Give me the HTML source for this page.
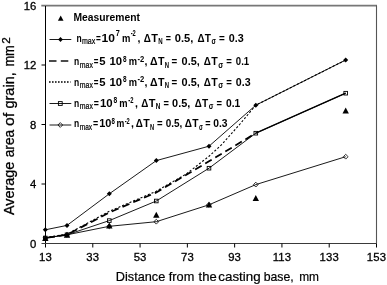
<!DOCTYPE html>
<html><head><meta charset="utf-8"><title>Chart</title>
<style>html,body{margin:0;padding:0;background:#fff}svg{display:block}text{font-family:"Liberation Sans",Arial,sans-serif;fill:#000}.b{font-weight:bold}.s{font-size:7px;font-weight:normal}.sb{font-size:7px;font-weight:bold}</style></head><body>
<svg width="387" height="285" viewBox="0 0 387 285">
<rect width="387" height="285" fill="#fff"/>
<path d="M41.3 5.6H377.0" stroke="#777" stroke-width="1.6" fill="none"/>
<path d="M376.5 5.5V243.5" stroke="#555" stroke-width="1.1" fill="none"/>
<path d="M45.5 6.0V247.5" stroke="#000" stroke-width="1" fill="none"/>
<path d="M41.5 243.5H376.5" stroke="#3a3a3a" stroke-width="1.1" fill="none"/>
<path d="M41.5 184.00H45.5M41.5 124.50H45.5M41.5 65.00H45.5M92.79 243.5V247.5M140.07 243.5V247.5M187.36 243.5V247.5M234.64 243.5V247.5M281.93 243.5V247.5M329.21 243.5V247.5M376.50 243.5V247.5" stroke="#000" stroke-width="1" fill="none"/>
<text x="36.3" y="247.6" font-size="11.3" text-anchor="end" stroke="#000" stroke-width="0.3">0</text>
<text x="36.3" y="188.1" font-size="11.3" text-anchor="end" stroke="#000" stroke-width="0.3">4</text>
<text x="36.3" y="128.6" font-size="11.3" text-anchor="end" stroke="#000" stroke-width="0.3">8</text>
<text x="36.3" y="69.1" font-size="11.3" text-anchor="end" stroke="#000" stroke-width="0.3">12</text>
<text x="36.3" y="9.6" font-size="11.3" text-anchor="end" stroke="#000" stroke-width="0.3">16</text>
<text x="45.5" y="261.3" font-size="11.3" letter-spacing="0.15" text-anchor="middle" stroke="#000" stroke-width="0.3">13</text>
<text x="92.8" y="261.3" font-size="11.3" letter-spacing="0.15" text-anchor="middle" stroke="#000" stroke-width="0.3">33</text>
<text x="140.1" y="261.3" font-size="11.3" letter-spacing="0.15" text-anchor="middle" stroke="#000" stroke-width="0.3">53</text>
<text x="187.4" y="261.3" font-size="11.3" letter-spacing="0.15" text-anchor="middle" stroke="#000" stroke-width="0.3">73</text>
<text x="234.6" y="261.3" font-size="11.3" letter-spacing="0.15" text-anchor="middle" stroke="#000" stroke-width="0.3">93</text>
<text x="281.9" y="261.3" font-size="11.3" letter-spacing="0.15" text-anchor="middle" stroke="#000" stroke-width="0.3">113</text>
<text x="329.2" y="261.3" font-size="11.3" letter-spacing="0.15" text-anchor="middle" stroke="#000" stroke-width="0.3">133</text>
<text x="376.5" y="261.3" font-size="11.3" letter-spacing="0.15" text-anchor="middle" stroke="#000" stroke-width="0.3">153</text>
<text x="115.80" y="280.5" font-size="12.4" textLength="49.51" lengthAdjust="spacingAndGlyphs" stroke="#000" stroke-width="0.2">Distance</text>
<text x="168.80" y="280.5" font-size="12.4" textLength="25.50" lengthAdjust="spacingAndGlyphs" stroke="#000" stroke-width="0.2">from</text>
<text x="198.60" y="280.5" font-size="12.4" textLength="18.10" lengthAdjust="spacingAndGlyphs" stroke="#000" stroke-width="0.2">the</text>
<text x="218.30" y="280.5" font-size="12.4" textLength="42.28" lengthAdjust="spacingAndGlyphs" stroke="#000" stroke-width="0.2">casting</text>
<text x="263.70" y="280.5" font-size="12.4" textLength="30.02" lengthAdjust="spacingAndGlyphs" stroke="#000" stroke-width="0.2">base,</text>
<text x="299.20" y="280.5" font-size="12.4" textLength="19.81" lengthAdjust="spacingAndGlyphs" stroke="#000" stroke-width="0.2">mm</text>
<g transform="translate(13.8 215.1) rotate(-90)">
<text x="0.00" y="0" font-size="14" textLength="53.42" lengthAdjust="spacingAndGlyphs" stroke="#000" stroke-width="0.3">Average</text>
<text x="57.80" y="0" font-size="14" textLength="27.55" lengthAdjust="spacingAndGlyphs" stroke="#000" stroke-width="0.3">area</text>
<text x="89.00" y="0" font-size="14" textLength="13.18" lengthAdjust="spacingAndGlyphs" stroke="#000" stroke-width="0.3">of</text>
<text x="106.60" y="0" font-size="14" textLength="36.22" lengthAdjust="spacingAndGlyphs" stroke="#000" stroke-width="0.3">grain,</text>
<text x="148.60" y="0" font-size="14" textLength="21.21" lengthAdjust="spacingAndGlyphs" stroke="#000" stroke-width="0.3">mm</text>
<text x="171.40" y="-3.8" font-size="10.5" textLength="6.51" lengthAdjust="spacingAndGlyphs" stroke="#000" stroke-width="0.25">2</text>
</g>
<polyline points="45.3,237.6 67.0,234.2 109.3,211.3 156.3,191.2 186.0,174.2 209.0,156.3 222.0,144.3 240.0,124.0 255.8,105.2 345.7,60.0" fill="none" stroke="#000" stroke-width="1.1" stroke-dasharray="2.1 1.9"/>
<polyline points="45.3,238.0 67.0,234.8 109.3,226.3 156.3,221.7 209.0,204.8 255.8,184.6 345.7,156.7" fill="none" stroke="#000" stroke-width="0.9"/>
<polyline points="45.3,238.0 67.0,234.8 109.3,220.6 156.3,201.0 209.0,168.2 255.8,133.2 345.7,93.2" fill="none" stroke="#000" stroke-width="0.9"/>
<polyline points="45.3,238.0 67.0,234.8 109.3,212.5 156.3,192.5 209.0,161.3 255.8,133.2" fill="none" stroke="#000" stroke-width="1.75" stroke-dasharray="7.5 4.2" stroke-dashoffset="9.5"/>
<path d="M255.8 133.2L345.7 93.2" fill="none" stroke="#000" stroke-width="1.35"/>
<polyline points="45.3,229.8 67.0,225.4 109.3,193.8 156.3,160.6 209.0,146.2 255.8,105.2 345.7,60.0" fill="none" stroke="#000" stroke-width="0.9"/>
<path d="M42.9 238.0L45.3 235.6L47.7 238.0L45.3 240.4Z" fill="none" stroke="#000" stroke-width="0.8"/>
<path d="M64.6 234.8L67.0 232.4L69.4 234.8L67.0 237.2Z" fill="none" stroke="#000" stroke-width="0.8"/>
<path d="M106.9 226.3L109.3 223.9L111.7 226.3L109.3 228.7Z" fill="none" stroke="#000" stroke-width="0.8"/>
<path d="M153.9 221.7L156.3 219.3L158.7 221.7L156.3 224.1Z" fill="none" stroke="#000" stroke-width="0.8"/>
<path d="M206.6 204.8L209.0 202.4L211.4 204.8L209.0 207.2Z" fill="none" stroke="#000" stroke-width="0.8"/>
<path d="M253.4 184.6L255.8 182.2L258.2 184.6L255.8 187.0Z" fill="none" stroke="#000" stroke-width="0.8"/>
<path d="M343.3 156.7L345.7 154.3L348.1 156.7L345.7 159.1Z" fill="none" stroke="#000" stroke-width="0.8"/>
<rect x="43.5" y="236.2" width="3.6" height="3.6" fill="none" stroke="#000" stroke-width="0.9"/>
<rect x="65.2" y="233.0" width="3.6" height="3.6" fill="none" stroke="#000" stroke-width="0.9"/>
<rect x="107.5" y="218.8" width="3.6" height="3.6" fill="none" stroke="#000" stroke-width="0.9"/>
<rect x="154.5" y="199.2" width="3.6" height="3.6" fill="none" stroke="#000" stroke-width="0.9"/>
<rect x="207.2" y="166.4" width="3.6" height="3.6" fill="none" stroke="#000" stroke-width="0.9"/>
<rect x="254.0" y="131.4" width="3.6" height="3.6" fill="none" stroke="#000" stroke-width="0.9"/>
<rect x="343.9" y="91.4" width="3.6" height="3.6" fill="none" stroke="#000" stroke-width="0.9"/>
<path d="M42.8 229.8L45.3 227.3L47.8 229.8L45.3 232.3Z" fill="#000"/>
<path d="M64.5 225.4L67.0 222.9L69.5 225.4L67.0 227.9Z" fill="#000"/>
<path d="M106.8 193.8L109.3 191.3L111.8 193.8L109.3 196.3Z" fill="#000"/>
<path d="M153.8 160.6L156.3 158.1L158.8 160.6L156.3 163.1Z" fill="#000"/>
<path d="M206.5 146.2L209.0 143.7L211.5 146.2L209.0 148.7Z" fill="#000"/>
<path d="M253.3 105.2L255.8 102.7L258.3 105.2L255.8 107.7Z" fill="#000"/>
<path d="M343.2 60.0L345.7 57.5L348.2 60.0L345.7 62.5Z" fill="#000"/>
<path d="M42.1 241.0L45.3 235.0L48.5 241.0Z" fill="#000"/>
<path d="M63.8 237.8L67.0 231.8L70.2 237.8Z" fill="#000"/>
<path d="M106.1 228.6L109.3 222.6L112.5 228.6Z" fill="#000"/>
<path d="M153.1 217.7L156.3 211.7L159.5 217.7Z" fill="#000"/>
<path d="M205.8 207.6L209.0 201.6L212.2 207.6Z" fill="#000"/>
<path d="M252.6 200.9L255.8 194.9L259.0 200.9Z" fill="#000"/>
<path d="M342.5 113.5L345.7 107.5L348.9 113.5Z" fill="#000"/>
<path d="M57.9 20.8L60.7 15.6L63.5 20.8Z" fill="#000"/>
<text x="73.5" y="21.3" font-size="10.3" class="b">Measurement</text>
<path d="M49.5 39.5H71.3" stroke="#000" stroke-width="0.9"/><path d="M58.1 39.5L60.5 37.1L62.9 39.5L60.5 41.9Z" fill="#000"/>
<text x="76.60" y="41.6" font-size="11.6" textLength="5.21" lengthAdjust="spacingAndGlyphs" class="b">n</text>
<text x="82.00" y="43.9" font-size="8.2" textLength="13.29" lengthAdjust="spacingAndGlyphs" stroke="#000" stroke-width="0.2">max</text>
<text x="96.00" y="41.6" font-size="10.6" textLength="4.79" lengthAdjust="spacingAndGlyphs" class="b">=</text>
<text x="101.60" y="41.6" font-size="10.6" textLength="13.43" lengthAdjust="spacingAndGlyphs" class="b">10</text>
<text x="115.80" y="36.4" font-size="8.4" textLength="4.01" lengthAdjust="spacingAndGlyphs" class="b">7</text>
<text x="121.90" y="41.6" font-size="10.6" textLength="8.39" lengthAdjust="spacingAndGlyphs" class="b">m</text>
<text x="130.70" y="36.4" font-size="8.4" textLength="5.10" lengthAdjust="spacingAndGlyphs" class="b">-2</text>
<text x="137.50" y="41.6" font-size="10.6" class="b">,</text>
<text x="143.70" y="41.6" font-size="10.6" textLength="7.09" lengthAdjust="spacingAndGlyphs" class="b">Δ</text>
<text x="151.30" y="41.6" font-size="10.6" textLength="6.71" lengthAdjust="spacingAndGlyphs" class="b">T</text>
<text x="158.30" y="43.9" font-size="8.8" textLength="4.41" lengthAdjust="spacingAndGlyphs" class="b">N</text>
<text x="165.80" y="41.6" font-size="10.6" textLength="5.19" lengthAdjust="spacingAndGlyphs" class="b">=</text>
<text x="174.80" y="41.6" font-size="10.6" textLength="18.58" lengthAdjust="spacingAndGlyphs" class="b">0.5,</text>
<text x="197.40" y="41.6" font-size="10.6" textLength="7.09" lengthAdjust="spacingAndGlyphs" class="b">Δ</text>
<text x="204.80" y="41.6" font-size="10.6" textLength="6.21" lengthAdjust="spacingAndGlyphs" class="b">T</text>
<text x="211.50" y="43.9" font-size="8.8" textLength="4.49" lengthAdjust="spacingAndGlyphs" class="b">σ</text>
<text x="218.90" y="41.6" font-size="10.6" textLength="5.79" lengthAdjust="spacingAndGlyphs" class="b">=</text>
<text x="228.70" y="41.6" font-size="10.6" textLength="15.00" lengthAdjust="spacingAndGlyphs" class="b">0.3</text>
<path d="M49 61H71" stroke="#111" stroke-width="1.5" stroke-dasharray="7.5 4.3"/>
<text x="74.00" y="65.3" font-size="11.6" textLength="5.21" lengthAdjust="spacingAndGlyphs" class="b">n</text>
<text x="79.80" y="67.6" font-size="8.2" textLength="13.09" lengthAdjust="spacingAndGlyphs" stroke="#000" stroke-width="0.2">max</text>
<text x="93.70" y="65.3" font-size="10.6" textLength="4.69" lengthAdjust="spacingAndGlyphs" class="b">=</text>
<text x="99.20" y="65.3" font-size="10.6" textLength="6.31" lengthAdjust="spacingAndGlyphs" class="b">5</text>
<text x="109.50" y="65.3" font-size="10.6" textLength="12.63" lengthAdjust="spacingAndGlyphs" class="b">10</text>
<text x="122.90" y="61.7" font-size="8.4" textLength="3.61" lengthAdjust="spacingAndGlyphs" class="b">8</text>
<text x="128.70" y="65.3" font-size="10.6" textLength="8.29" lengthAdjust="spacingAndGlyphs" class="b">m</text>
<text x="137.40" y="61.7" font-size="8.4" textLength="6.79" lengthAdjust="spacingAndGlyphs" class="b">-2</text>
<text x="144.50" y="65.3" font-size="10.6" class="b">,</text>
<text x="150.00" y="65.3" font-size="10.6" textLength="7.59" lengthAdjust="spacingAndGlyphs" class="b">Δ</text>
<text x="158.00" y="65.3" font-size="10.6" textLength="6.51" lengthAdjust="spacingAndGlyphs" class="b">T</text>
<text x="164.70" y="67.6" font-size="8.8" textLength="4.31" lengthAdjust="spacingAndGlyphs" class="b">N</text>
<text x="171.60" y="65.3" font-size="10.6" textLength="5.69" lengthAdjust="spacingAndGlyphs" class="b">=</text>
<text x="181.60" y="65.3" font-size="10.6" textLength="18.18" lengthAdjust="spacingAndGlyphs" class="b">0.5,</text>
<text x="203.70" y="65.3" font-size="10.6" textLength="7.09" lengthAdjust="spacingAndGlyphs" class="b">Δ</text>
<text x="211.20" y="65.3" font-size="10.6" textLength="6.51" lengthAdjust="spacingAndGlyphs" class="b">T</text>
<text x="218.30" y="67.6" font-size="8.8" textLength="4.99" lengthAdjust="spacingAndGlyphs" class="b">σ</text>
<text x="226.30" y="65.3" font-size="10.6" textLength="5.59" lengthAdjust="spacingAndGlyphs" class="b">=</text>
<text x="235.80" y="65.3" font-size="10.6" textLength="13.40" lengthAdjust="spacingAndGlyphs" class="b">0.1</text>
<path d="M49 82H70.5" stroke="#000" stroke-width="1.3" stroke-dasharray="1.6 1.4"/>
<text x="74.00" y="86.0" font-size="11.6" textLength="5.21" lengthAdjust="spacingAndGlyphs" class="b">n</text>
<text x="79.80" y="88.3" font-size="8.2" textLength="13.09" lengthAdjust="spacingAndGlyphs" stroke="#000" stroke-width="0.2">max</text>
<text x="93.70" y="86.0" font-size="10.6" textLength="4.69" lengthAdjust="spacingAndGlyphs" class="b">=</text>
<text x="99.20" y="86.0" font-size="10.6" textLength="6.31" lengthAdjust="spacingAndGlyphs" class="b">5</text>
<text x="109.50" y="86.0" font-size="10.6" textLength="12.63" lengthAdjust="spacingAndGlyphs" class="b">10</text>
<text x="122.90" y="82.4" font-size="8.4" textLength="3.61" lengthAdjust="spacingAndGlyphs" class="b">8</text>
<text x="128.70" y="86.0" font-size="10.6" textLength="8.29" lengthAdjust="spacingAndGlyphs" class="b">m</text>
<text x="137.40" y="82.4" font-size="8.4" textLength="6.79" lengthAdjust="spacingAndGlyphs" class="b">-2</text>
<text x="144.50" y="86.0" font-size="10.6" class="b">,</text>
<text x="150.00" y="86.0" font-size="10.6" textLength="7.59" lengthAdjust="spacingAndGlyphs" class="b">Δ</text>
<text x="158.00" y="86.0" font-size="10.6" textLength="6.51" lengthAdjust="spacingAndGlyphs" class="b">T</text>
<text x="164.70" y="88.3" font-size="8.8" textLength="4.31" lengthAdjust="spacingAndGlyphs" class="b">N</text>
<text x="171.60" y="86.0" font-size="10.6" textLength="5.69" lengthAdjust="spacingAndGlyphs" class="b">=</text>
<text x="181.60" y="86.0" font-size="10.6" textLength="18.18" lengthAdjust="spacingAndGlyphs" class="b">0.5,</text>
<text x="203.70" y="86.0" font-size="10.6" textLength="7.09" lengthAdjust="spacingAndGlyphs" class="b">Δ</text>
<text x="211.20" y="86.0" font-size="10.6" textLength="6.51" lengthAdjust="spacingAndGlyphs" class="b">T</text>
<text x="218.30" y="88.3" font-size="8.8" textLength="4.99" lengthAdjust="spacingAndGlyphs" class="b">σ</text>
<text x="226.30" y="86.0" font-size="10.6" textLength="5.59" lengthAdjust="spacingAndGlyphs" class="b">=</text>
<text x="235.80" y="86.0" font-size="10.6" textLength="14.80" lengthAdjust="spacingAndGlyphs" class="b">0.3</text>
<path d="M49.5 103.5H71.3" stroke="#000" stroke-width="0.9"/><rect x="58.4" y="101.6" width="3.8" height="3.8" fill="none" stroke="#000" stroke-width="0.9"/>
<text x="74.00" y="106.8" font-size="11.6" textLength="5.21" lengthAdjust="spacingAndGlyphs" class="b">n</text>
<text x="79.80" y="109.1" font-size="8.2" textLength="13.09" lengthAdjust="spacingAndGlyphs" stroke="#000" stroke-width="0.2">max</text>
<text x="93.70" y="106.8" font-size="10.6" textLength="5.09" lengthAdjust="spacingAndGlyphs" class="b">=</text>
<text x="100.00" y="106.8" font-size="10.6" textLength="12.73" lengthAdjust="spacingAndGlyphs" class="b">10</text>
<text x="113.40" y="103.2" font-size="8.4" textLength="3.71" lengthAdjust="spacingAndGlyphs" class="b">8</text>
<text x="119.30" y="106.8" font-size="10.6" textLength="8.29" lengthAdjust="spacingAndGlyphs" class="b">m</text>
<text x="128.20" y="103.2" font-size="8.4" textLength="5.20" lengthAdjust="spacingAndGlyphs" class="b">-2</text>
<text x="135.00" y="106.8" font-size="10.6" class="b">,</text>
<text x="141.30" y="106.8" font-size="10.6" textLength="7.09" lengthAdjust="spacingAndGlyphs" class="b">Δ</text>
<text x="148.80" y="106.8" font-size="10.6" textLength="6.71" lengthAdjust="spacingAndGlyphs" class="b">T</text>
<text x="155.70" y="109.1" font-size="8.8" textLength="4.61" lengthAdjust="spacingAndGlyphs" class="b">N</text>
<text x="163.40" y="106.8" font-size="10.6" textLength="5.39" lengthAdjust="spacingAndGlyphs" class="b">=</text>
<text x="172.10" y="106.8" font-size="10.6" textLength="18.18" lengthAdjust="spacingAndGlyphs" class="b">0.5,</text>
<text x="194.70" y="106.8" font-size="10.6" textLength="6.99" lengthAdjust="spacingAndGlyphs" class="b">Δ</text>
<text x="202.00" y="106.8" font-size="10.6" textLength="6.21" lengthAdjust="spacingAndGlyphs" class="b">T</text>
<text x="208.80" y="109.1" font-size="8.8" textLength="4.69" lengthAdjust="spacingAndGlyphs" class="b">σ</text>
<text x="216.50" y="106.8" font-size="10.6" textLength="5.49" lengthAdjust="spacingAndGlyphs" class="b">=</text>
<text x="226.00" y="106.8" font-size="10.6" textLength="14.30" lengthAdjust="spacingAndGlyphs" class="b">0.1</text>
<path d="M49.5 125H71.3" stroke="#000" stroke-width="0.9"/><path d="M57.9 125.0L60.3 122.6L62.7 125.0L60.3 127.4Z" fill="none" stroke="#000" stroke-width="0.8"/>
<text x="74.00" y="127.2" font-size="11.6" textLength="5.21" lengthAdjust="spacingAndGlyphs" class="b">n</text>
<text x="79.80" y="129.5" font-size="8.2" textLength="12.29" lengthAdjust="spacingAndGlyphs" stroke="#000" stroke-width="0.2">max</text>
<text x="92.90" y="127.2" font-size="10.6" textLength="5.19" lengthAdjust="spacingAndGlyphs" class="b">=</text>
<text x="99.20" y="127.2" font-size="10.6" textLength="12.23" lengthAdjust="spacingAndGlyphs" class="b">10</text>
<text x="111.60" y="123.6" font-size="8.4" textLength="3.41" lengthAdjust="spacingAndGlyphs" class="b">8</text>
<text x="116.60" y="127.2" font-size="10.6" textLength="7.79" lengthAdjust="spacingAndGlyphs" class="b">m</text>
<text x="124.70" y="123.6" font-size="8.4" textLength="5.10" lengthAdjust="spacingAndGlyphs" class="b">-2</text>
<text x="131.00" y="127.2" font-size="10.6" class="b">,</text>
<text x="135.80" y="127.2" font-size="10.6" textLength="7.09" lengthAdjust="spacingAndGlyphs" class="b">Δ</text>
<text x="143.20" y="127.2" font-size="10.6" textLength="6.51" lengthAdjust="spacingAndGlyphs" class="b">T</text>
<text x="149.90" y="129.5" font-size="8.8" textLength="4.11" lengthAdjust="spacingAndGlyphs" class="b">N</text>
<text x="157.10" y="127.2" font-size="10.6" textLength="5.59" lengthAdjust="spacingAndGlyphs" class="b">=</text>
<text x="165.80" y="127.2" font-size="10.6" textLength="16.58" lengthAdjust="spacingAndGlyphs" class="b">0.5,</text>
<text x="184.70" y="127.2" font-size="10.6" textLength="7.19" lengthAdjust="spacingAndGlyphs" class="b">Δ</text>
<text x="192.20" y="127.2" font-size="10.6" textLength="6.31" lengthAdjust="spacingAndGlyphs" class="b">T</text>
<text x="199.00" y="129.5" font-size="8.8" textLength="3.89" lengthAdjust="spacingAndGlyphs" class="b">σ</text>
<text x="205.20" y="127.2" font-size="10.6" textLength="5.29" lengthAdjust="spacingAndGlyphs" class="b">=</text>
<text x="213.30" y="127.2" font-size="10.6" textLength="14.30" lengthAdjust="spacingAndGlyphs" class="b">0.3</text>
</svg></body></html>
